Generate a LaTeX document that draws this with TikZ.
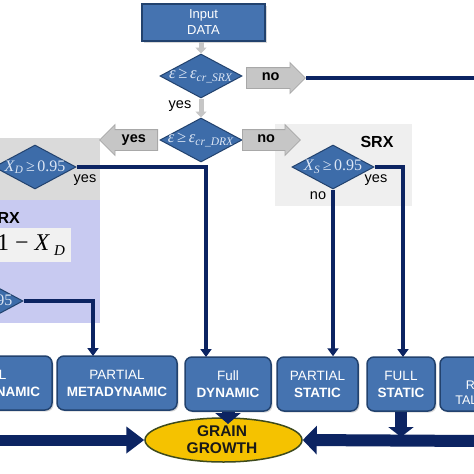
\documentclass[tikz,border=0pt]{standalone}
\usepackage[no-math]{fontspec}
\setmainfont{Liberation Sans}
\newfontfamily\tms{Liberation Serif}
\usetikzlibrary{shapes.geometric,shapes.arrows,arrows.meta,shadows}
\definecolor{boxblue}{HTML}{4573B0}
\definecolor{diablue}{HTML}{3D6CA9}
\definecolor{boxedge}{HTML}{22426E}
\definecolor{navy}{HTML}{0C2462}
\definecolor{arrgray}{HTML}{C6C6C6}
\definecolor{arrgrayedge}{HTML}{A8A8A8}
\definecolor{panelgray}{HTML}{DADADA}
\definecolor{panellight}{HTML}{EFEFEF}
\definecolor{lavender}{HTML}{C8CAF1}
\definecolor{formulabg}{HTML}{F1F1F1}
\definecolor{grainyellow}{HTML}{F5C200}
\definecolor{grainedge}{HTML}{3E4A1C}
\definecolor{diatextcol}{HTML}{DCE6F5}
\newcommand{\epsc}[1]{\textit{ε}\,≥\,\textit{ε}\textsubscript{\textit{cr\_#1}}}
\newcommand{\xge}[1]{\textit{X}\textsubscript{\textit{#1}}\,≥\,0.95}
\begin{document}
\begin{tikzpicture}[x=1pt,y=-1pt,
  every node/.style={inner sep=0pt},
  databox/.style={draw=boxedge, fill=boxblue, line width=1.2pt, text=white, align=center,
    font=\fontsize{13}{16}\selectfont,
    drop shadow={shadow xshift=1.5pt,shadow yshift=-1.5pt,opacity=0.3}},
  resbox/.style={draw=boxedge, fill=boxblue, line width=1.5pt, rounded corners=7pt, text=white,
    align=center, font=\fontsize{13.5}{17}\selectfont, minimum height=54pt,
    drop shadow={shadow xshift=1.5pt,shadow yshift=-1.5pt,opacity=0.3}},
  dia/.style={diamond, draw=boxedge, fill=diablue, line width=1pt, minimum width=82pt,
    minimum height=44pt, inner sep=0pt},
  diatext/.style={text=diatextcol, font=\tms\fontsize{16.5}{18}\selectfont},
  grayarrow/.style={single arrow, draw=arrgrayedge, fill=arrgray, line width=0.8pt,
    single arrow head extend=5pt, minimum width=30pt, inner xsep=2pt, inner ysep=4.5pt,
    text height=8pt, text depth=3pt, font=\bfseries\fontsize{14.5}{16}\selectfont},
  grayline/.style={draw=arrgray, line width=5pt, -{Triangle[width=11pt,length=6pt]}},
  navyline/.style={draw=navy, line width=4pt},
  navyarr/.style={draw=navy, line width=4pt, -{Triangle[width=11pt,length=8pt]}},
  bar/.style={draw=navy, line width=12pt},
  lbl/.style={font=\fontsize{14.5}{16}\selectfont},
  title/.style={font=\bfseries\fontsize{16}{18}\selectfont},
]
\useasboundingbox (0,0) rectangle (474,474);
\clip (0,0) rectangle (474,474);
\fill[white] (0,0) rectangle (474,474);

% panels
\fill[panelgray] (-5,138) rectangle (100,200);
\fill[lavender] (-5,200) rectangle (100,323);
\fill[panellight] (275,124) rectangle (412,206);
\fill[formulabg] (-5,228) rectangle (71,262);

% nodes
\node[databox, minimum width=123pt, minimum height=37pt] (input) at (203.5,22.5) {Input\\DATA};
\node[dia] (d1) at (201,76) {};
\node[diatext] (t1) at (d1) {\epsc{SRX}};
\node[dia] (d2) at (201,140) {};
\node[diatext] (t2) at (d2) {\epsc{DRX}};

\node[grayarrow, minimum height=59pt, anchor=tail] (no1) at (246,78) {no};
\node[grayarrow, minimum height=58pt, anchor=tail, shape border rotate=180] (yes2) at (158,140) {yes};
\node[grayarrow, minimum height=58pt, anchor=tail] (no2) at (242,140) {no};

\node[lbl] (yes1) at (180,106) {yes};

% SRX panel
\node[title] (srx) at (377,142) {SRX};
\node[dia] (dS) at (333,167) {};
\node[diatext, font=\tms\fontsize{16}{18}\selectfont] (tS) at (dS) {\xge{S}};
\node[lbl] (yesS) at (376,180) {yes};
\node[lbl] (noS) at (318,196) {no};

% DRX panel
\node[dia] (dD) at (35,167) {};
\node[diatext, font=\tms\fontsize{16}{18}\selectfont] (tD) at (dD) {\xge{D}};
\node[lbl] (yesD) at (85,180) {yes};
\node[title] (drx) at (3,218) {DRX};
\node[anchor=west, font=\tms\fontsize{24}{24}\selectfont] (fx) at (-3,245) {1 − \textit{X}\,\raisebox{-5pt}{\fontsize{15}{15}\selectfont\textit{D}}};
\node[dia] (dD2) at (-18,301) {};
\node[diatext, font=\tms\fontsize{16}{18}\selectfont] (tD2) at (dD2) {\xge{D}};

% result boxes
\node[resbox, minimum width=124pt] (b1) at (-10,383) {FULL\\\textbf{METADYNAMIC}};
\node[resbox, minimum width=120pt] (b2) at (117,383) {PARTIAL\\\textbf{METADYNAMIC}};
\node[resbox, minimum width=86pt] (b3) at (228,384) {Full\\\textbf{DYNAMIC}};
\node[resbox, minimum width=81pt] (b4) at (317.5,384) {PARTIAL\\\textbf{STATIC}};
\node[resbox, minimum width=68pt] (b5) at (401,384) {FULL\\\textbf{STATIC}};
\node[resbox, minimum width=108pt] (b6) at (494,384) {};
\node[text=white, align=center, font=\fontsize{12.5}{15}\selectfont] (b6t) at (494,393) {RECRYS-\\TALLIZATION};

% grain growth
\node[ellipse, draw=grainedge, fill=grainyellow, line width=1.5pt, minimum width=157pt, minimum height=44pt] (grain) at (223.5,440) {};
\node[align=center, text=black!90, font=\bfseries\fontsize{15.5}{17}\selectfont] (gt) at (222,440) {GRAIN\\GROWTH};

% connectors
\draw[grayline] (d1.north |- input.south) -- (d1.north);
\draw[grayline] (d1.south) -- (d2.north);
\coordinate (eR) at (474,78);
\draw[navyline] (no1.tip) -- (eR);
\coordinate (b2in) at (93,356);
\coordinate (b3in) at (206,357);
\coordinate (b5in) at (403,357);
\draw[navyarr] (dD2.east) -| (b2in);
\draw[navyarr] (dD.east) -| (b3in);
\draw[navyarr] (dS.south) -- (dS.south |- b4.north);
\draw[navyarr] (dS.east) -| (b5in);

\coordinate (g3) at (228,424);
\coordinate (g5) at (401,437);
\draw[draw=navy, line width=13pt, -{Triangle[width=25pt,length=11pt]}] (b3.south) -- (g3);
\draw[draw=navy, line width=12pt, -{Triangle[width=25pt,length=10pt]}] (b5.south) -- (g5);
\coordinate (rEnd) at (480,441);
\coordinate (lEnd) at (-5,440);
\draw[bar, -{Triangle[width=28pt,length=14pt]}] (rEnd) -- (grain.east);
\draw[bar, line width=11pt, -{Triangle[width=26pt,length=18pt]}] (lEnd) -- (grain.west);
\end{tikzpicture}
\end{document}
